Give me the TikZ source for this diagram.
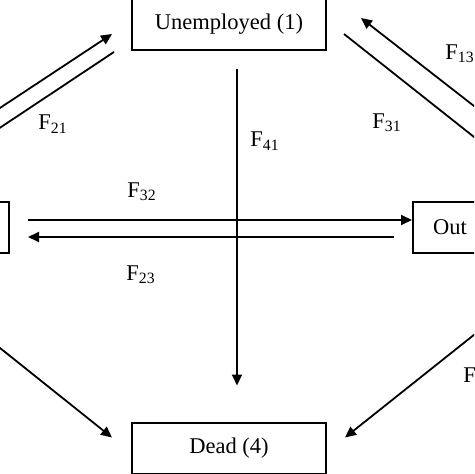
\documentclass[tikz,border=0pt]{standalone}
\usepackage{fontspec}
\setmainfont{Liberation Serif}
\usetikzlibrary{arrows.meta,calc}
\tikzset{
	state/.style={draw, line width=1pt, minimum width=97pt, minimum height=25.5pt, inner sep=0pt},
	flow/.style={line width=.9pt},
}
\begin{document}
\begin{tikzpicture}[x=.5pt, y=-.5pt, font=\fontsize{11.25}{13}\selectfont, >={Triangle[length=5.5pt,width=5pt]}]
	\useasboundingbox (0,0) rectangle (474,474);
	\clip (0,0) rectangle (474,474);
	% states
	\node[state] (unemp) at (229,24.5) {Unemployed (1)};
	\node[state] (employed) at (-88,228) {};
	\node[state, text width=77pt, inner xsep=10pt, align=left] (out) at (510,227.5) {Out};
	\node[state] (dead) at (229,448) {Dead (4)};
	% flows
	\draw[flow,->] ($(employed.north east)+(-132,-13)$) -- ($(unemp.south west)+(-19,-17)$);
	\draw[flow,->] ($(unemp.south west)+(-17,1)$) -- ($(employed.north east)+(-101.5,-13)$);
	\draw[flow,->] ($(out.north west)+(168.5,-12)$) -- ($(unemp.south east)+(34,-33)$);
	\draw[flow,->] ($(unemp.south east)+(17,-17)$) -- ($(out.north west)+(127.7,-12)$);
	\draw[flow,->] ($(employed.east)+(18,-8)$) -- ($(out.west)+(0,-7.5)$);
	\draw[flow,->] ($(out.west)+(-18,9.5)$) -- ($(employed.east)+(18,9)$);
	\draw[flow,->] ($(unemp.south)+(8,18)$) -- ($(dead.north)+(8,-36)$);
	\draw[flow,->] ($(employed.south east)+(-112,12)$) -- ($(dead.north west)+(-19,16)$);
	\draw[flow,->] ($(out.south west)+(148.5,12)$) -- ($(dead.north east)+(18,16)$);
	% labels
	\node (f21) at (53,124) {F\textsubscript{21}};
	\node (f13) at (460,54) {F\textsubscript{13}};
	\node (f31) at (387,123) {F\textsubscript{31}};
	\node (f41) at (265,141) {F\textsubscript{41}};
	\node (f32) at (142,192) {F\textsubscript{32}};
	\node (f23) at (141,275) {F\textsubscript{23}};
	\node (f43) at (478,377) {F\textsubscript{43}};
\end{tikzpicture}
\end{document}
